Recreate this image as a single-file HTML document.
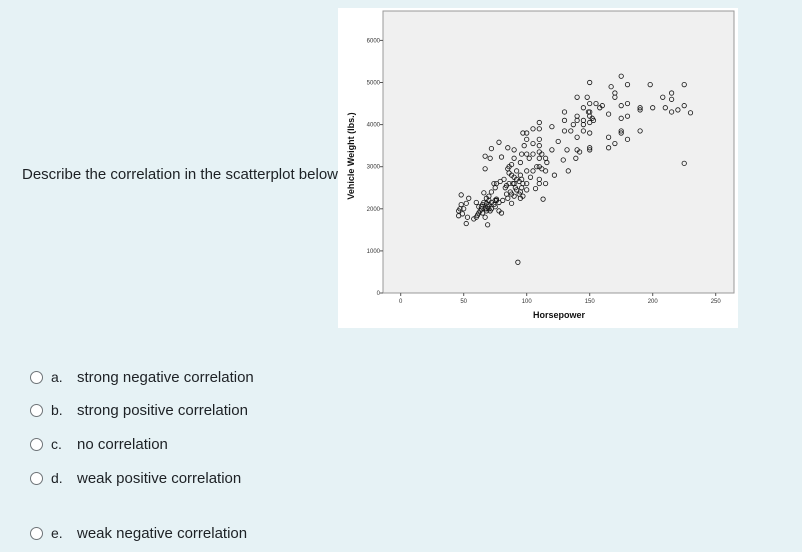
<!DOCTYPE html>
<html><head><meta charset="utf-8"><style>
html,body{margin:0;padding:0}
body{width:802px;height:552px;background:#e6f2f5;position:relative;overflow:hidden;font-family:"Liberation Sans",sans-serif;color:#1d2125}
.q{position:absolute;left:22px;top:166px;font-size:15px;white-space:nowrap}
.opt{position:absolute;left:30px;font-size:15px;height:18px;white-space:nowrap}
.opt .r{position:absolute;left:0;top:2px;width:11px;height:11px;border:1px solid #6e7478;border-radius:50%;background:#fff}
.opt .l{position:absolute;left:21px;top:0;font-size:14px}
.opt .t{position:absolute;left:47px;top:0}
#chart{position:absolute;left:338px;top:8px}
</style></head><body>
<div class="q">Describe the correlation in the scatterplot below</div>
<div class="opt" style="top:369px"><span class="r"></span><span class="l">a.</span><span class="t">strong negative correlation</span></div>
<div class="opt" style="top:402px"><span class="r"></span><span class="l">b.</span><span class="t">strong positive correlation</span></div>
<div class="opt" style="top:436px"><span class="r"></span><span class="l">c.</span><span class="t">no correlation</span></div>
<div class="opt" style="top:470px"><span class="r"></span><span class="l">d.</span><span class="t">weak positive correlation</span></div>
<div class="opt" style="top:525px"><span class="r"></span><span class="l">e.</span><span class="t">weak negative correlation</span></div>
<svg id="chart" width="400" height="320" xmlns="http://www.w3.org/2000/svg">
<rect x="0" y="0" width="400" height="320" fill="#fff"/>
<rect x="45" y="3" width="351" height="282" fill="#f0f0f0" stroke="#999" stroke-width="1"/>
<g id="axes"></g><g id="pts"></g>
</svg>
<script>
const hp=[46,46,47,48,48,49,50,52,52,53,54,58,60,60,61,62,63,64,65,65,66,67,67,67,67,68,68,68,69,69,70,70,70,71,71,72,72,72,74,75,75,75,76,76,78,78,79,80,80,81,82,83,84,85,85,85,86,86,87,88,88,88,89,90,90,90,90,91,92,92,93,94,95,95,95,95,96,96,97,97,97,98,100,100,100,100,100,102,103,105,105,105,105,107,108,110,110,110,110,110,110,110,112,112,113,115,115,115,116,120,120,122,125,129,130,130,130,132,133,135,137,139,140,140,140,140,142,145,145,145,148,149,150,150,150,150,150,150,152,153,155,158,160,165,165,165,167,170,170,170,175,175,175,175,175,180,180,180,180,190,190,190,198,200,208,210,215,215,215,220,225,225,225,230,
62,64,66,68,70,72,74,76,78,84,86,88,90,92,94,96,100,110,110,150,150,145,140];
const weight=[1835,1950,2000,2330,2100,1880,2000,1650,2130,1800,2250,1760,1800,2150,1850,2050,1950,2000,2100,1900,2380,1800,2000,2950,3250,1950,2130,2250,1620,2050,2000,2200,2100,1950,3200,2400,2150,3430,2600,2200,2500,2050,2230,2600,3580,1950,2650,1900,3230,2200,2700,2500,2350,2950,2250,3450,3000,2600,2400,2800,3050,2130,2600,3200,2300,2750,3400,2500,2900,2700,730,2650,2400,3100,2250,2800,2500,3300,3800,2600,2300,3500,2900,3300,3650,3800,2450,3200,2750,3300,3550,3900,2900,2480,3000,3650,3900,2700,3500,3200,4050,2600,2950,3300,2230,2600,3200,2900,3100,3950,3400,2800,3600,3160,3850,4100,4300,3400,2900,3850,4000,3200,4650,3700,4200,3400,3350,4100,4400,3850,4650,4300,4500,4200,3800,3450,5000,3400,4150,4100,4500,4400,4450,4250,3450,3700,4900,4650,4750,3550,5150,4450,4150,3850,3800,4950,4500,4200,3650,4400,4350,3850,4950,4400,4650,4400,4750,4600,4300,4350,4950,4450,3080,4280,
1900,2050,2150,2000,2300,2000,2100,2200,2150,2550,2850,2350,2600,2450,2350,2700,2600,3350,3000,4300,4050,4000,4100];
const xTicks=[0,50,100,150,200,250];
const yTicks=[0,1000,2000,3000,4000,5000,6000];
const NS="http://www.w3.org/2000/svg";
const X=v=>62.7+v*(315/250);
const Y=v=>285-v*(252.6/6000);
function mk(tag,attrs,parent){const e=document.createElementNS(NS,tag);for(const k in attrs)e.setAttribute(k,attrs[k]);parent.appendChild(e);return e;}
const ax=document.getElementById('axes');
yTicks.forEach(t=>{
  const ln=mk('line',{x1:42,x2:45,y1:Y(t),y2:Y(t),stroke:'#555','stroke-width':1},ax);
  
  
  const tx=mk('text',{x:42,y:Y(t)+2,'text-anchor':'end','font-size':6,fill:'#333','font-family':'Liberation Sans, sans-serif'},ax);
  tx.textContent=t;
  
  
});
xTicks.forEach(t=>{
  const ln=mk('line',{x1:X(t),x2:X(t),y1:285,y2:288,stroke:'#555','stroke-width':1},ax);
  
  
  const tx=mk('text',{x:X(t),y:295,'text-anchor':'middle','font-size':6,fill:'#333','font-family':'Liberation Sans, sans-serif'},ax);
  tx.textContent=t;
  
  
});
const xt=mk('text',{x:221,y:310,'text-anchor':'middle','font-size':9,'font-weight':'bold',fill:'#111','font-family':'Liberation Sans, sans-serif'},ax);
xt.textContent='Horsepower';


const yt=mk('text',{x:0,y:0,'text-anchor':'middle','font-size':9,'font-weight':'bold',fill:'#111','font-family':'Liberation Sans, sans-serif',transform:'translate(16,148) rotate(-90)'},ax);
yt.textContent='Vehicle Weight (lbs.)';


const pg=document.getElementById('pts');
hp.forEach((h,i)=>{
  const c=mk('circle',{cx:X(h),cy:Y(weight[i]),r:2.2,fill:'none',stroke:'#111','stroke-width':0.8},pg);
  
  
});
</script>
</body></html>
